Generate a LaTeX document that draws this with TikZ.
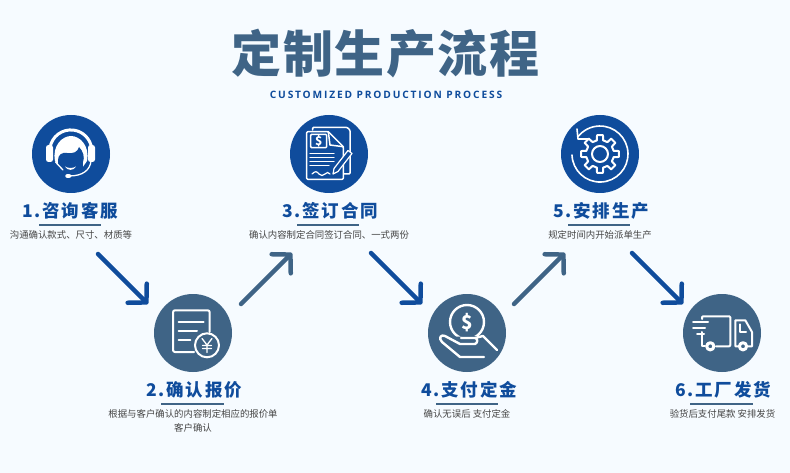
\documentclass[tikz,border=0pt]{standalone}
\usepackage{fontspec}
\setmainfont{Noto Sans CJK SC}
\newfontfamily\titlefont[LetterSpace=3]{Noto Sans CJK SC}
\newfontfamily\headfont[LetterSpace=10]{Noto Sans CJK SC}
\newfontfamily\subfont[LetterSpace=18]{Open Sans}
\usetikzlibrary{arrows.meta,calc}
\definecolor{bgpale}{HTML}{F6FBFF}
\definecolor{navyblue}{HTML}{0F4C9C}
\definecolor{steelblue}{HTML}{3F6486}
\definecolor{captiongray}{HTML}{454545}
\tikzset{
  icondot/.style={circle,minimum size=78pt,inner sep=0pt},
  headtext/.style={text=navyblue,font=\headfont\bfseries\fontsize{17.5}{20}\selectfont},
  captext/.style={text=captiongray,align=center,font=\fontsize{9.4}{14}\selectfont},
  headrule/.style={steelblue,line width=2.2pt},
  flowarrow/.style={line width=4.5pt,line cap=round,-{Straight Barb[length=13pt,width=27pt,round]}},
  iconline/.style={white,line width=2pt,line cap=round,line join=round},
}
\begin{document}
\begin{tikzpicture}[x=1pt,y=-1pt]
  \useasboundingbox[fill=bgpale] (0,0) rectangle (790,473);

  % Title
  \node[text=steelblue,font=\titlefont\bfseries\fontsize{50}{54}\selectfont] (title) at (385.5,54) {定制生产流程};
  \node[text=navyblue,font=\subfont\bfseries\fontsize{10.2}{12}\selectfont] (subtitle) at (386,95) {CUSTOMIZED PRODUCTION PROCESS};

  % Circles
  \node[icondot,fill=navyblue] (kefu) at (71,154) {};
  \node[icondot,fill=steelblue] (baojia) at (193,333) {};
  \node[icondot,fill=navyblue] (hetong) at (329,154) {};
  \node[icondot,fill=steelblue] (dingjin) at (467,333) {};
  \node[icondot,fill=navyblue] (shengchan) at (600,154) {};
  \node[icondot,fill=steelblue] (fahuo) at (722,333) {};

  % Labels
  \node[headtext] (kefuhead) at (70,211) {1.咨询客服};
  \node[headtext] (baojiahead) at (194,390) {2.确认报价};
  \node[headtext] (hetonghead) at (330,211) {3.签订合同};
  \node[headtext] (dingjinhead) at (469,390) {4.支付定金};
  \node[headtext] (shengchanhead) at (601,211) {5.安排生产};
  \node[headtext] (fahuohead) at (723,390) {6.工厂发货};

  \node[captext] (kefucap) at (71,235) {沟通确认款式、尺寸、材质等};
  \node[captext] (baojiacap) at (193,421) {根据与客户确认的内容制定相应的报价单\\客户确认};
  \node[captext] (hetongcap) at (329,235) {确认内容制定合同签订合同、一式两份};
  \node[captext] (dingjincap) at (467,414) {确认无误后 支付定金};
  \node[captext] (shengchancap) at (600,235) {规定时间内开始派单生产};
  \node[captext] (fahuocap) at (722.5,414) {验货后支付尾款 安排发货};

  % Rules under the headings
  \draw[headrule] ($(kefu)+(-32,71)$) -- +(62,0);
  \draw[headrule] ($(baojia)+(-32,71)$) -- +(63,0);
  \draw[headrule] ($(hetong)+(-32,71)$) -- +(62,0);
  \draw[headrule] ($(dingjin)+(-31,71)$) -- +(62,0);
  \draw[headrule] ($(shengchan)+(-32,71)$) -- +(62,0);
  \draw[headrule] ($(fahuo)+(-32,71)$) -- +(63,0);

  % Arrows
  \coordinate (a1s) at (98,254);  \coordinate (a1e) at (148,304);
  \coordinate (a2s) at (241,304); \coordinate (a2e) at (292,253);
  \coordinate (a3s) at (371,253); \coordinate (a3e) at (422,304);
  \coordinate (a4s) at (514,304); \coordinate (a4e) at (565,253);
  \coordinate (a5s) at (632,253); \coordinate (a5e) at (683,304);
  \draw[flowarrow,navyblue] (a1s) -- (a1e);
  \draw[flowarrow,steelblue] (a2s) -- (a2e);
  \draw[flowarrow,navyblue] (a3s) -- (a3e);
  \draw[flowarrow,steelblue] (a4s) -- (a4e);
  \draw[flowarrow,navyblue] (a5s) -- (a5e);

  % Icon 1: headset
  \begin{scope}[shift={(kefu)}]
    \draw[iconline,line width=3pt] (-21,-6) arc (188:352:21);
    \fill[white,rounded corners=2.5pt] (-25,-9) rectangle (-18,8);
    \fill[white,rounded corners=2.5pt] (17,-9) rectangle (24,8);
    \fill[white] (-16,7) .. controls (-19,-8) and (-9,-18) .. (0,-18) .. controls (9,-18) and (19,-8) .. (16,7) -- (9,17) -- (-8,18) -- cycle;
    \fill[navyblue] (-13,6) .. controls (-13,1) and (-9,-2) .. (-4,-1) .. controls (2,0) and (7,-2) .. (8,-7) .. controls (12,-3) and (14,3) .. (12,8) .. controls (11,14) and (14,17) .. (9,20) -- (-9,20) .. controls (-13,17) and (-13,13) .. (-13,6) -- cycle;
    \draw[iconline,line width=1.3pt] (-15.5,8) -- (-8,16);
    \fill[white] (-6,12.5) .. controls (-3,14.5) and (2,14.5) .. (5,12.5) .. controls (3,17) and (-4,17) .. (-6,12.5) -- cycle;
    \draw[iconline,line width=1.3pt] (20,7) .. controls (19,16) and (12,22) .. (-2,22);
    \draw[iconline,line width=4.5pt] (-3.5,22) -- (-2,22);
  \end{scope}

  % Icon 2: bill with a coin
  \begin{scope}[shift={(baojia)}]
    \draw[iconline,rounded corners=2pt] (16.7,-1) -- (16.7,-22.7) -- (-20,-22.7) -- (-20,19) -- (1,19);
    \draw[iconline] (-14.3,-11) -- (10.7,-11);
    \draw[iconline] (-14.3,-1.7) -- (4,-1.7);
    \draw[iconline] (-14.3,7.3) -- (-2.7,7.3);
    \draw[iconline] (14,12.3) circle (12);
    \draw[iconline,line width=1.3pt] (9,5.5) -- (14,12) -- (19,5.5) (14,12) -- (14,19.5) (9.5,12.5) -- (18.5,12.5) (9.5,15.5) -- (18.5,15.5);
  \end{scope}

  % Icon 3: contract and pen
  \begin{scope}[shift={(hetong)}]
    \draw[iconline,line width=1.5pt,rounded corners=1pt] (-16.3,-24) -- (-16.3,-26.7) -- (18,-26.7) -- (21,-24) -- (21,20) -- (14.3,20);
    \draw[iconline,line width=1.5pt,fill=navyblue,rounded corners=1pt] (-22.3,-22.3) -- (-0.7,-22.3) -- (14.3,-7.3) -- (14.3,25.3) -- (-22.3,25.3) -- cycle;
    \draw[iconline,line width=1.5pt] (-0.7,-22.3) -- (1,-9) -- (14.3,-7.3);
    \draw[iconline,line width=1.5pt,rounded corners=1pt] (-18.3,-19.7) rectangle (-2.3,-6.3);
    \node[text=white,inner sep=0pt,font=\bfseries\fontsize{12}{12}\selectfont] (contractsign) at (-10.3,-13) {\$};
    \draw[iconline,line width=1.2pt] (-19,-0.7) -- (5,-0.7) (-19,3.3) -- (5,3.3) (-19,7.3) -- (5,7.3) (-19,11.7) -- (0,11.7);
    \draw[iconline,line width=1.2pt] (-17,20) .. controls (-14,17) and (-12,17) .. (-10,20) .. controls (-8,22) and (-6,22) .. (-4,20) .. controls (-2,18) and (-1,18) .. (1,20);
    \draw[iconline,line width=1.2pt,fill=navyblue] (4,20) -- (5,14.5) -- (19,-3.5) -- (23,-0.5) -- (9,17.5) -- cycle;
  \end{scope}

  % Icon 4: hand with a coin
  \begin{scope}[shift={(dingjin)}]
    \draw[iconline,line width=2.4pt] (0,-11) circle (17);
    \node[text=white,inner sep=0pt,font=\bfseries\fontsize{19}{19}\selectfont] (coinsign) at (0,-10.5) {\$};
    \fill[steelblue] (-24,4) -- (10,3) -- (31,17) -- (18,26) -- (-8,26) -- (-29,8) -- cycle;
    \draw[iconline,line width=2.4pt] (17,24) -- (-7,24) -- (-25,9) .. controls (-29,5) and (-26,1) .. (-22,3) -- (-7,11) -- (8,11) .. controls (11,10) and (11,5) .. (8,5) -- (-6,5);
    \draw[iconline,line width=2.4pt] (8,5) -- (16,3) -- (30,17);
  \end{scope}

  % Icon 5: gear with a circular arrow
  \begin{scope}[shift={(shengchan)}]
    \draw[iconline] (0,0) circle (8);
    \foreach \a in {0,45,...,315} {
      \draw[iconline] (\a-13:14) -- (\a-9:19) -- (\a+9:19) -- (\a+13:14) -- (\a+32:14);
    }
    \draw[iconline,line width=1.6pt] (-28,1) arc (178:-142:28);
    \draw[iconline,line width=1.6pt] (-23,-25) -- (-22,-15) -- (-12,-15);
  \end{scope}

  % Icon 6: truck
  \begin{scope}[shift={(fahuo)}]
    \draw[iconline,rounded corners=1pt] (-20,-14) -- (-20,-16.7) -- (8.3,-16.7) -- (8.3,13.3) -- (-6,13.3);
    \draw[iconline] (-20,-1) -- (-20,13.3) -- (-17,13.3);
    \draw[iconline] (16,13.3) -- (13.3,13.3) -- (13.3,-12.7) -- (23.3,-12.7) -- (30,-1) -- (30,13.3) -- (26,13.3);
    \draw[iconline] (17.7,-8.7) -- (17.7,-1) -- (24,-1);
    \draw[iconline,line width=3pt] (-11.7,13.3) circle (3.6);
    \draw[iconline,line width=3pt] (21,13.3) circle (3.6);
    \draw[iconline] (-29,-11) -- (-14,-11);
    \draw[iconline] (-29,-5.3) -- (-17,-5.3);
    \draw[iconline] (-25,0.7) -- (-18,0.7);
  \end{scope}
\end{tikzpicture}
\end{document}
